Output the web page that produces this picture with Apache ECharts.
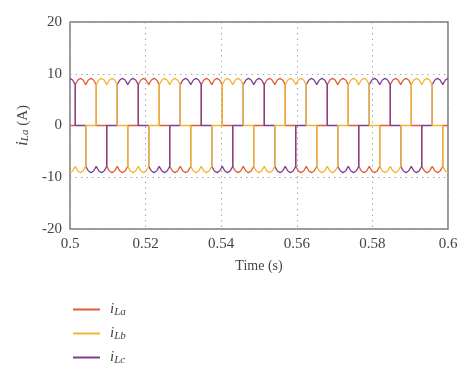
<!DOCTYPE html>
<html>
<head>
<meta charset="utf-8">
<script src="https://cdn.jsdelivr.net/npm/echarts@6/dist/echarts.min.js"></script>
<style>
html,body{margin:0;padding:0;background:#fff;}
#chart{width:474px;height:379px;}
</style>
</head>
<body>
<div id="chart"></div>
<script>
// Time samples (s)
var time = [
0.5, 0.50069, 0.50139, 0.50139, 0.50208, 0.50278, 0.50347, 0.50417, 0.50417, 0.50486, 0.50556, 0.50625, 0.50694, 0.50694, 0.50764, 0.50833, 0.50903, 0.50972, 0.50972, 0.51042, 0.51111, 0.51181, 0.5125, 0.5125, 0.51319, 0.51389, 0.51458, 0.51528, 0.51528, 0.51597,
0.51667, 0.51736, 0.51806, 0.51806, 0.51875, 0.51944, 0.52014, 0.52083, 0.52083, 0.52153, 0.52222, 0.52292, 0.52361, 0.52361, 0.52431, 0.525, 0.52569, 0.52639, 0.52639, 0.52708, 0.52778, 0.52847, 0.52917, 0.52917, 0.52986, 0.53056, 0.53125, 0.53194, 0.53194, 0.53264,
0.53333, 0.53403, 0.53472, 0.53472, 0.53542, 0.53611, 0.53681, 0.5375, 0.5375, 0.53819, 0.53889, 0.53958, 0.54028, 0.54028, 0.54097, 0.54167, 0.54236, 0.54306, 0.54306, 0.54375, 0.54444, 0.54514, 0.54583, 0.54583, 0.54653, 0.54722, 0.54792, 0.54861, 0.54861, 0.54931,
0.55, 0.55069, 0.55139, 0.55139, 0.55208, 0.55278, 0.55347, 0.55417, 0.55417, 0.55486, 0.55556, 0.55625, 0.55694, 0.55694, 0.55764, 0.55833, 0.55903, 0.55972, 0.55972, 0.56042, 0.56111, 0.56181, 0.5625, 0.5625, 0.56319, 0.56389, 0.56458, 0.56528, 0.56528, 0.56597,
0.56667, 0.56736, 0.56806, 0.56806, 0.56875, 0.56944, 0.57014, 0.57083, 0.57083, 0.57153, 0.57222, 0.57292, 0.57361, 0.57361, 0.57431, 0.575, 0.57569, 0.57639, 0.57639, 0.57708, 0.57778, 0.57847, 0.57917, 0.57917, 0.57986, 0.58056, 0.58125, 0.58194, 0.58194, 0.58264,
0.58333, 0.58403, 0.58472, 0.58472, 0.58542, 0.58611, 0.58681, 0.5875, 0.5875, 0.58819, 0.58889, 0.58958, 0.59028, 0.59028, 0.59097, 0.59167, 0.59236, 0.59306, 0.59306, 0.59375, 0.59444, 0.59514, 0.59583, 0.59583, 0.59653, 0.59722, 0.59792, 0.59861, 0.59861, 0.59931,
0.6
];

// Phase a load current (A)
var iLa = [
0,0,0,7.9,8.8,9.1,8.8,7.9,7.9,8.8,9.1,8.8,7.9,0,0,0,0,0,-7.9,-8.8,-9.1,-8.8,-7.9,-7.9,-8.8,-9.1,-8.8,-7.9,0,0,
0,0,0,7.9,8.8,9.1,8.8,7.9,7.9,8.8,9.1,8.8,7.9,0,0,0,0,0,-7.9,-8.8,-9.1,-8.8,-7.9,-7.9,-8.8,-9.1,-8.8,-7.9,0,0,
0,0,0,7.9,8.8,9.1,8.8,7.9,7.9,8.8,9.1,8.8,7.9,0,0,0,0,0,-7.9,-8.8,-9.1,-8.8,-7.9,-7.9,-8.8,-9.1,-8.8,-7.9,0,0,
0,0,0,7.9,8.8,9.1,8.8,7.9,7.9,8.8,9.1,8.8,7.9,0,0,0,0,0,-7.9,-8.8,-9.1,-8.8,-7.9,-7.9,-8.8,-9.1,-8.8,-7.9,0,0,
0,0,0,7.9,8.8,9.1,8.8,7.9,7.9,8.8,9.1,8.8,7.9,0,0,0,0,0,-7.9,-8.8,-9.1,-8.8,-7.9,-7.9,-8.8,-9.1,-8.8,-7.9,0,0,
0,0,0,7.9,8.8,9.1,8.8,7.9,7.9,8.8,9.1,8.8,7.9,0,0,0,0,0,-7.9,-8.8,-9.1,-8.8,-7.9,-7.9,-8.8,-9.1,-8.8,-7.9,0,0,
0
];

// Phase b load current (A)
var iLb = [
-9.1,-8.8,-7.9,-7.9,-8.8,-9.1,-8.8,-7.9,0,0,0,0,0,7.9,8.8,9.1,8.8,7.9,7.9,8.8,9.1,8.8,7.9,0,0,0,0,0,-7.9,-8.8,
-9.1,-8.8,-7.9,-7.9,-8.8,-9.1,-8.8,-7.9,0,0,0,0,0,7.9,8.8,9.1,8.8,7.9,7.9,8.8,9.1,8.8,7.9,0,0,0,0,0,-7.9,-8.8,
-9.1,-8.8,-7.9,-7.9,-8.8,-9.1,-8.8,-7.9,0,0,0,0,0,7.9,8.8,9.1,8.8,7.9,7.9,8.8,9.1,8.8,7.9,0,0,0,0,0,-7.9,-8.8,
-9.1,-8.8,-7.9,-7.9,-8.8,-9.1,-8.8,-7.9,0,0,0,0,0,7.9,8.8,9.1,8.8,7.9,7.9,8.8,9.1,8.8,7.9,0,0,0,0,0,-7.9,-8.8,
-9.1,-8.8,-7.9,-7.9,-8.8,-9.1,-8.8,-7.9,0,0,0,0,0,7.9,8.8,9.1,8.8,7.9,7.9,8.8,9.1,8.8,7.9,0,0,0,0,0,-7.9,-8.8,
-9.1,-8.8,-7.9,-7.9,-8.8,-9.1,-8.8,-7.9,0,0,0,0,0,7.9,8.8,9.1,8.8,7.9,7.9,8.8,9.1,8.8,7.9,0,0,0,0,0,-7.9,-8.8,
-9.1
];

// Phase c load current (A)
var iLc = [
9.1,8.8,7.9,0,0,0,0,0,-7.9,-8.8,-9.1,-8.8,-7.9,-7.9,-8.8,-9.1,-8.8,-7.9,0,0,0,0,0,7.9,8.8,9.1,8.8,7.9,7.9,8.8,
9.1,8.8,7.9,0,0,0,0,0,-7.9,-8.8,-9.1,-8.8,-7.9,-7.9,-8.8,-9.1,-8.8,-7.9,0,0,0,0,0,7.9,8.8,9.1,8.8,7.9,7.9,8.8,
9.1,8.8,7.9,0,0,0,0,0,-7.9,-8.8,-9.1,-8.8,-7.9,-7.9,-8.8,-9.1,-8.8,-7.9,0,0,0,0,0,7.9,8.8,9.1,8.8,7.9,7.9,8.8,
9.1,8.8,7.9,0,0,0,0,0,-7.9,-8.8,-9.1,-8.8,-7.9,-7.9,-8.8,-9.1,-8.8,-7.9,0,0,0,0,0,7.9,8.8,9.1,8.8,7.9,7.9,8.8,
9.1,8.8,7.9,0,0,0,0,0,-7.9,-8.8,-9.1,-8.8,-7.9,-7.9,-8.8,-9.1,-8.8,-7.9,0,0,0,0,0,7.9,8.8,9.1,8.8,7.9,7.9,8.8,
9.1,8.8,7.9,0,0,0,0,0,-7.9,-8.8,-9.1,-8.8,-7.9,-7.9,-8.8,-9.1,-8.8,-7.9,0,0,0,0,0,7.9,8.8,9.1,8.8,7.9,7.9,8.8,
9.1
];

var seriesNames = ['iLa', 'iLb', 'iLc'];
var seriesSubs = ['La', 'Lb', 'Lc'];
var seriesColors = ['#de5c38', '#f0b533', '#7d3f8e'];
var xTicks = ['0.5', '0.52', '0.54', '0.56', '0.58', '0.6'];

function pairs(v) { return time.map(function (t, i) { return [t, v[i]]; }); }
var allValues = [iLa, iLb, iLc];

var serif = 'Liberation Serif';
var chart = echarts.init(document.getElementById('chart'), null, {renderer: 'canvas'});
chart.setOption({
  animation: false,
  backgroundColor: '#ffffff',
  grid: {left: 70, right: 26, top: 22, bottom: 150, show: true, borderColor: '#7a7a7a', borderWidth: 1.5, backgroundColor: 'transparent'},
  xAxis: {
    type: 'value', min: 0.5, max: 0.6, interval: 0.02,
    axisLine: {show: false}, axisTick: {show: false},
    splitLine: {show: true, lineStyle: {color: '#a8a8a8', width: 1, type: [1.5, 4]}},
    axisLabel: {color: '#444', fontFamily: serif, fontSize: 15, margin: 8,
      formatter: function (v) { var k = Math.round((v - 0.5) / 0.02); return xTicks[k] || ''; }},
    name: 'Time (s)', nameLocation: 'middle', nameGap: 30,
    nameTextStyle: {color: '#444', fontFamily: serif, fontSize: 14}
  },
  yAxis: {
    type: 'value', min: -20, max: 20, interval: 10,
    axisLine: {show: false}, axisTick: {show: false},
    splitLine: {show: true, lineStyle: {color: '#a8a8a8', width: 1, type: [1.5, 4]}},
    axisLabel: {color: '#444', fontFamily: serif, fontSize: 15, margin: 8},
    name: '{i|i}{s|La}{n| (A)}', nameLocation: 'middle', nameGap: 36, nameRotate: 90,
    nameTextStyle: {
      rich: {
        i: {fontFamily: serif, fontStyle: 'italic', fontSize: 17, color: '#444'},
        s: {fontFamily: serif, fontStyle: 'italic', fontSize: 11, color: '#444', verticalAlign: 'bottom', padding: [6, 0, 0, 0]},
        n: {fontFamily: serif, fontSize: 15, color: '#444'}
      }
    }
  },
  legend: {
    orient: 'vertical', left: 68, top: 297, itemWidth: 27, itemHeight: 2, itemGap: 8,
    icon: 'rect',
    data: seriesNames,
    formatter: function (name) { return '{i|i}{s|' + seriesSubs[seriesNames.indexOf(name)] + '}'; },
    textStyle: {
      padding: [0, 0, 0, 5],
      rich: {
        i: {fontFamily: serif, fontStyle: 'italic', fontSize: 15, color: '#444', height: 17},
        s: {fontFamily: serif, fontStyle: 'italic', fontSize: 11, color: '#444', verticalAlign: 'bottom', padding: [6, 0, 0, 0]}
      }
    }
  },
  series: seriesNames.map(function (n, k) {
    return {
      name: n, type: 'line', symbol: 'none', smooth: false,
      z: [2, 4, 3][k],
      lineStyle: {color: seriesColors[k], width: 1.3},
      itemStyle: {color: seriesColors[k]},
      data: pairs(allValues[k])
    };
  })
});
</script>
</body>
</html>
